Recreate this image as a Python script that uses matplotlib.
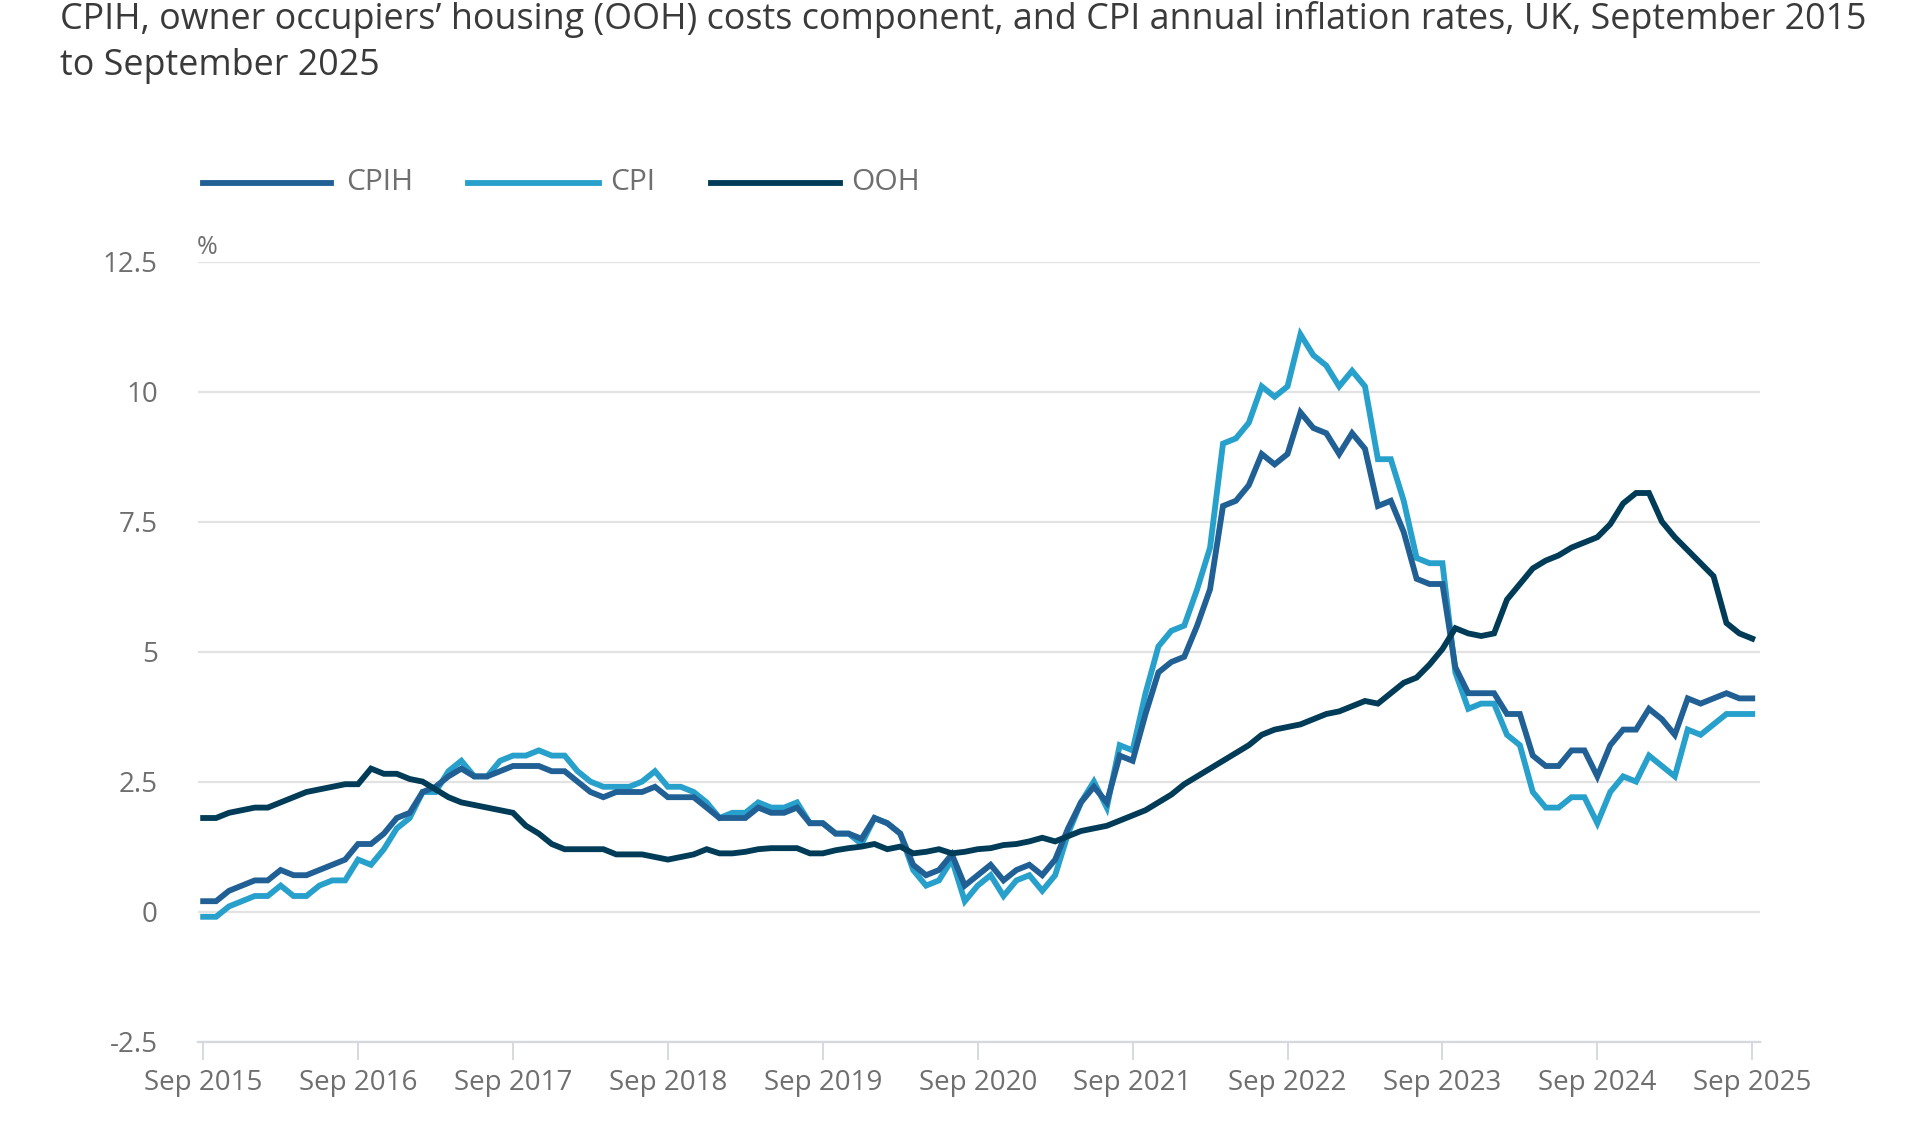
import numpy as np
import pandas as pd
import matplotlib
matplotlib.use("Agg")
import matplotlib.pyplot as plt
from matplotlib.lines import Line2D

# ---------------- data ----------------
months = pd.date_range("2015-09-01", "2025-09-01", freq="MS")

cpih = [0.2, 0.2, 0.4, 0.5,
        0.6, 0.6, 0.8, 0.7, 0.7, 0.8, 0.9, 1.0, 1.3, 1.3, 1.5, 1.8,
        1.9, 2.3, 2.4, 2.6, 2.75, 2.6, 2.6, 2.7, 2.8, 2.8, 2.8, 2.7,
        2.7, 2.5, 2.3, 2.2, 2.3, 2.3, 2.3, 2.4, 2.2, 2.2, 2.2, 2.0,
        1.8, 1.8, 1.8, 2.0, 1.9, 1.9, 2.0, 1.7, 1.7, 1.5, 1.5, 1.4,
        1.8, 1.7, 1.5, 0.9, 0.7, 0.8, 1.1, 0.5, 0.7, 0.9, 0.6, 0.8,
        0.9, 0.7, 1.0, 1.6, 2.1, 2.4, 2.1, 3.0, 2.9, 3.8, 4.6, 4.8,
        4.9, 5.5, 6.2, 7.8, 7.9, 8.2, 8.8, 8.6, 8.8, 9.6, 9.3, 9.2,
        8.8, 9.2, 8.9, 7.8, 7.9, 7.3, 6.4, 6.3, 6.3, 4.7, 4.2, 4.2,
        4.2, 3.8, 3.8, 3.0, 2.8, 2.8, 3.1, 3.1, 2.6, 3.2, 3.5, 3.5,
        3.9, 3.7, 3.4, 4.1, 4.0, 4.1, 4.2, 4.1, 4.1]

cpi = [-0.1, -0.1, 0.1, 0.2,
       0.3, 0.3, 0.5, 0.3, 0.3, 0.5, 0.6, 0.6, 1.0, 0.9, 1.2, 1.6,
       1.8, 2.3, 2.3, 2.7, 2.9, 2.6, 2.6, 2.9, 3.0, 3.0, 3.1, 3.0,
       3.0, 2.7, 2.5, 2.4, 2.4, 2.4, 2.5, 2.7, 2.4, 2.4, 2.3, 2.1,
       1.8, 1.9, 1.9, 2.1, 2.0, 2.0, 2.1, 1.7, 1.7, 1.5, 1.5, 1.3,
       1.8, 1.7, 1.5, 0.8, 0.5, 0.6, 1.0, 0.2, 0.5, 0.7, 0.3, 0.6,
       0.7, 0.4, 0.7, 1.5, 2.1, 2.5, 2.0, 3.2, 3.1, 4.2, 5.1, 5.4,
       5.5, 6.2, 7.0, 9.0, 9.1, 9.4, 10.1, 9.9, 10.1, 11.1, 10.7, 10.5,
       10.1, 10.4, 10.1, 8.7, 8.7, 7.9, 6.8, 6.7, 6.7, 4.6, 3.9, 4.0,
       4.0, 3.4, 3.2, 2.3, 2.0, 2.0, 2.2, 2.2, 1.7, 2.3, 2.6, 2.5,
       3.0, 2.8, 2.6, 3.5, 3.4, 3.6, 3.8, 3.8, 3.8]

ooh = [1.8, 1.8, 1.9, 1.95, 2.0, 2.0, 2.1, 2.2, 2.3, 2.35, 2.4, 2.45,
       2.45, 2.75, 2.65, 2.65, 2.55, 2.5, 2.35, 2.2, 2.1, 2.05, 2.0, 1.95,
       1.9, 1.65, 1.5, 1.3, 1.2, 1.2, 1.2, 1.2, 1.1, 1.1, 1.1, 1.05,
       1.0, 1.05, 1.1, 1.2, 1.12, 1.12, 1.15, 1.2, 1.22, 1.22, 1.22, 1.12,
       1.12, 1.18, 1.22, 1.25, 1.3, 1.2, 1.25, 1.12, 1.15, 1.2, 1.12, 1.15,
       1.2, 1.22, 1.28, 1.3, 1.35, 1.42, 1.35, 1.45, 1.55, 1.6, 1.65, 1.75,
       1.85, 1.95, 2.1, 2.25, 2.45, 2.6, 2.75, 2.9, 3.05, 3.2, 3.4, 3.5,
       3.55, 3.6, 3.7, 3.8, 3.85, 3.95, 4.05, 4.0, 4.2, 4.4, 4.5, 4.75,
       5.05, 5.45, 5.35, 5.3, 5.35, 6.0, 6.3, 6.6, 6.75, 6.85, 7.0, 7.1,
       7.2, 7.45, 7.85, 8.05, 8.05, 7.5, 7.2, 6.95, 6.7, 6.45, 5.55, 5.35, 5.25]

series_names = ["CPIH", "CPI", "OOH"]
y_ticks = [-2.5, 0, 2.5, 5, 7.5, 10, 12.5]
y_tick_labels = ["-2.5", "0", "2.5", "5", "7.5", "10", "12.5"]
x_tick_labels = ["Sep 2015", "Sep 2016", "Sep 2017", "Sep 2018", "Sep 2019", "Sep 2020",
                 "Sep 2021", "Sep 2022", "Sep 2023", "Sep 2024", "Sep 2025"]

title = ("CPIH, owner occupiers\u2019 housing (OOH) costs component, and CPI annual inflation rates, UK, September 2015\n"
         "to September 2025")

# ---------------- style ----------------
plt.rcParams["font.family"] = ["Open Sans", "DejaVu Sans"]
colors = {"CPIH": "#206095", "CPI": "#27a0cc", "OOH": "#003c57"}
text_grey = "#6f6f6f"
grid_grey = "#e2e2e2"
lw = 4.2

W, H = 1908, 1146
fig = plt.figure(figsize=(W / 100, H / 100), dpi=100)
fig.patch.set_facecolor("white")

ax_left, ax_right, ax_top, ax_bottom = 198, 1760, 261.6, 1041.6
ax = fig.add_axes([ax_left / W, 1 - ax_bottom / H, (ax_right - ax_left) / W, (ax_bottom - ax_top) / H])

x = np.arange(len(months))
data = {"CPIH": cpih, "CPI": cpi, "OOH": ooh}
for name in ["CPIH", "CPI", "OOH"]:
    ax.plot(x, data[name], color=colors[name], lw=lw, solid_joinstyle="miter",
            zorder=3 if name != "CPI" else 2)

ax.set_xlim(-0.4, 120.6)
ax.set_ylim(-2.5, 12.5)

ax.set_yticks(y_ticks)
ax.set_yticklabels(y_tick_labels)
xt = [i for i, d in enumerate(months) if d.month == 9]
ax.set_xticks(xt)
ax.set_xticklabels(x_tick_labels)

ax.tick_params(axis="y", length=0, pad=29, labelsize=20, labelcolor=text_grey)
ax.tick_params(axis="x", length=13, width=1.2, color="#cfd3d8", pad=7, labelsize=20, labelcolor=text_grey)

for s in ["top", "right", "left"]:
    ax.spines[s].set_visible(False)
ax.spines["bottom"].set_color("#d5d8dc")
ax.spines["bottom"].set_linewidth(1.6)

ax.grid(axis="y", color=grid_grey, lw=1.6, zorder=0)
ax.set_axisbelow(True)

# title
fig.text(60 / W, 1 - 1 / H, title, ha="left", va="top", fontsize=25.8, color="#3a3a3a", linespacing=1.38)

# legend (manual)
leg_y = 1 - 183 / H
leg_items = [("CPIH", 203, 331, 346), ("CPI", 468, 599, 610), ("OOH", 711, 840, 851)]
for name, x0, x1, tx in leg_items:
    fig.add_artist(Line2D([x0 / W, x1 / W], [leg_y, leg_y], color=colors[name], lw=lw,
                          transform=fig.transFigure))
    fig.text(tx / W, leg_y, name, ha="left", va="center", fontsize=21.5, color=text_grey)

# percent unit label
fig.text(197 / W, 1 - 248 / H, "%", ha="left", va="center", fontsize=18, color=text_grey)

fig.savefig("out.png", dpi=100, facecolor="white")
